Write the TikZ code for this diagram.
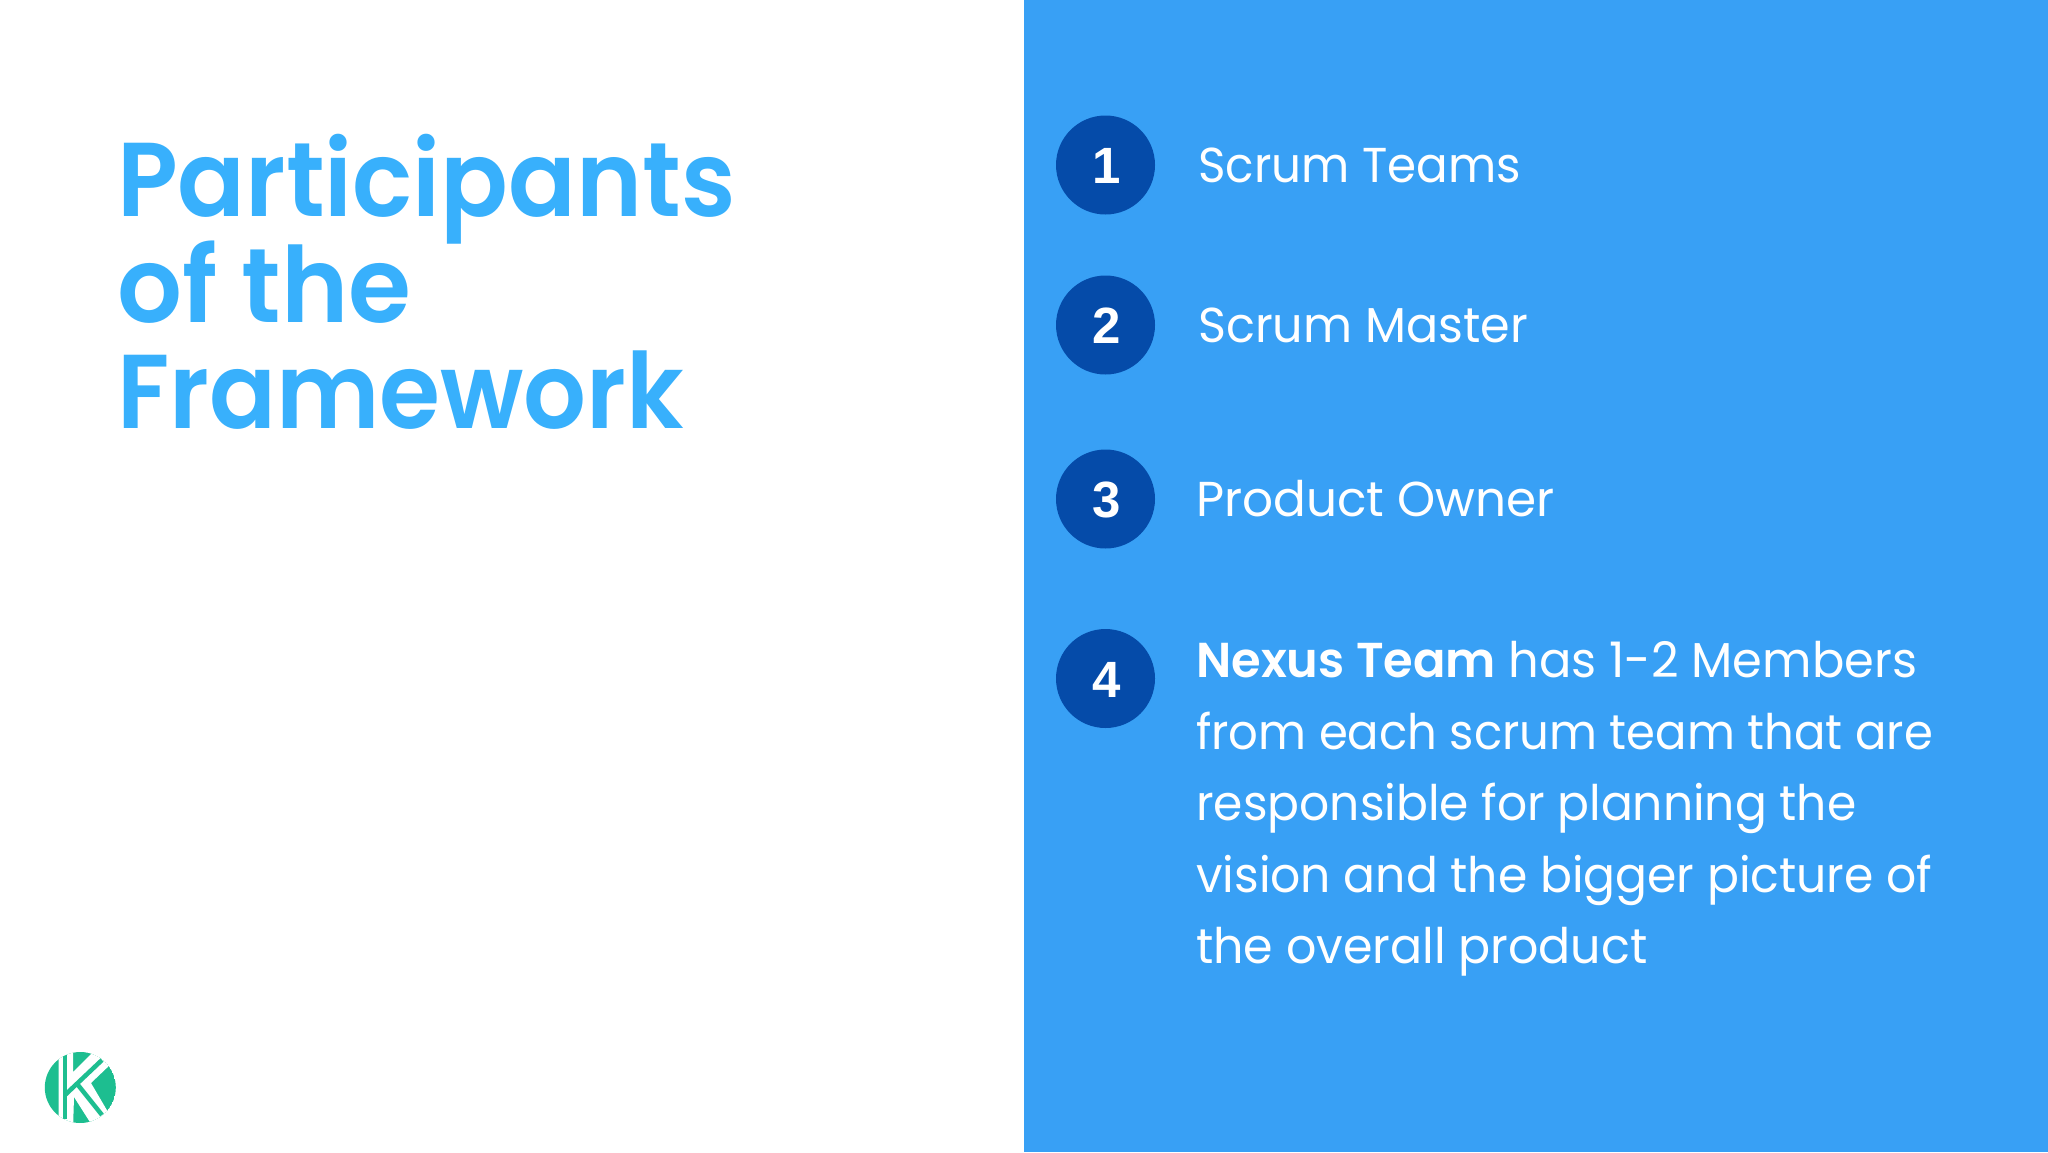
\documentclass[tikz,border=0pt]{standalone}
\usepackage{graphicx}
\usepackage{fontspec}
\setmainfont{Poppins}
\newcommand{\sx}[2]{\scalebox{#1}[1]{#2}}
\definecolor{panel}{HTML}{38A0F5}
\definecolor{dark}{HTML}{054BA9}
\definecolor{titleblue}{HTML}{38B0FC}
\definecolor{logogreen}{HTML}{1DBE90}
\tikzset{
 px/.style={x=1pt,y=-1pt},
 numdisc/.style={circle,fill=dark,draw=none,minimum size=99pt,inner sep=0pt},
 numtext/.style={inner sep=0pt,text=white,font=\fontsize{51}{51}\selectfont\fontspec{Liberation Sans}\bfseries},
 titletext/.style={anchor=base west,inner sep=0pt,text=titleblue,font=\fontsize{105}{105}\selectfont\fontspec{Poppins SemiBold}},
 bodytext/.style={anchor=base west,inner sep=0pt,text=white,font=\fontsize{49}{49}\selectfont\fontspec{Poppins}},
 logoline/.style={draw=logogreen,line width=4.5pt},
}
\begin{document}
\begin{tikzpicture}[px]
\useasboundingbox (0,0) rectangle (2048,1152);
\fill[white] (0,0) rectangle (2048,1152);
\fill[panel] (1024,0) rectangle (2048,1152);
\node[titletext] (t1) at (117,216.5) {\sx{0.952}{Participants}};
\node[titletext] (t2) at (117,322.5) {\sx{0.97}{of the}};
\node[titletext] (t3) at (117,428.5) {\sx{0.94}{Framework}};
\node[numdisc] (n1) at (1105.5,165) {};
\node[numdisc] (n2) at (1105.5,325) {};
\node[numdisc] (n3) at (1105.5,499) {};
\node[numdisc] (n4) at (1105.5,678.5) {};
\node[numtext] (d1) at (1106.5,166) {1};
\node[numtext] (d2) at (1106.5,326) {2};
\node[numtext] (d3) at (1106.5,500) {3};
\node[numtext] (d4) at (1106.5,680) {4};
\node[bodytext] (b1) at (1198,182) {\sx{0.955}{Scrum Teams}};
\node[bodytext] (b2) at (1198,342) {\sx{0.972}{Scrum Master}};
\node[bodytext] (b3) at (1196,516) {\sx{0.99}{Product Owner}};
\node[bodytext] (l1) at (1196,677) {\sx{0.978}{{\fontspec{Poppins SemiBold}Nexus Team} has 1-2 Members}};
\node[bodytext] (l2) at (1196,749) {\sx{0.95}{from each scrum team that are}};
\node[bodytext] (l3) at (1196,820) {\sx{0.963}{responsible for planning the}};
\node[bodytext] (l4) at (1196,892) {\sx{0.965}{vision and the bigger picture of}};
\node[bodytext] (l5) at (1196,963) {\sx{0.97}{the overall product}};
% logo
\begin{scope}
\clip (80.3,1087.5) circle (35.5);
\fill[logogreen] (80.3,1087.5) circle (35.5);
\fill[white] (58.5,1045) -- (73,1045) -- (73,1072) -- (95,1050) -- (112,1063) -- (91,1083) -- (108,1112) -- (95,1130) -- (74,1097) -- (73,1130) -- (58.5,1130) -- cycle;
\draw[logoline] (65,1055) -- (65,1119);
\draw[logoline] (65,1095) -- (102,1060);
\draw[logoline] (78,1085) -- (102,1115);
\end{scope}
\end{tikzpicture}
\end{document}
